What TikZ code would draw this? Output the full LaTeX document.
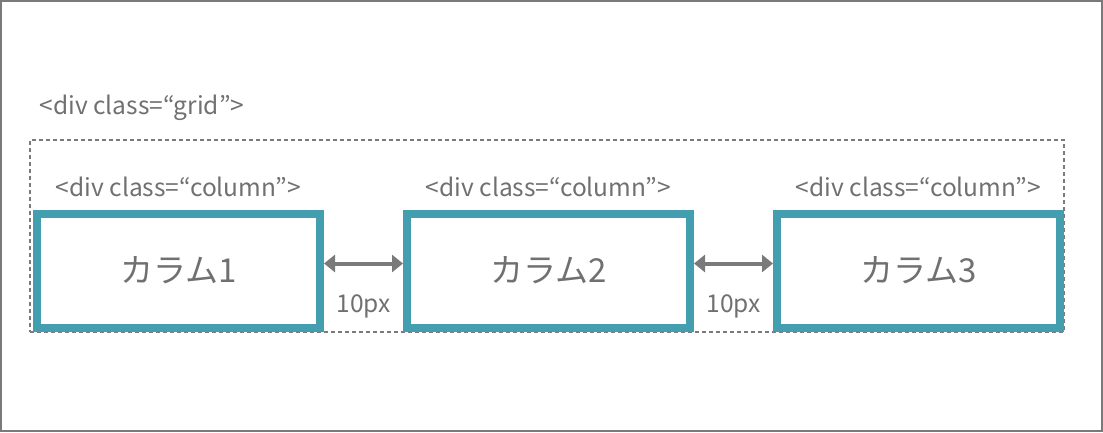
\documentclass[tikz,border=0pt]{standalone}
\usepackage{fontspec}
\setmainfont{Noto Sans CJK JP}
\usetikzlibrary{arrows.meta,positioning}
\definecolor{colteal}{HTML}{439EB0}
\definecolor{txtgrey}{HTML}{707070}
\definecolor{linegrey}{HTML}{7A7A7A}
\begin{document}
\begin{tikzpicture}[x=1pt,y=-1pt,
	colbox/.style={draw=colteal, line width=8pt, fill=white, minimum width=283pt, minimum height=114pt, text=txtgrey, font=\fontsize{33}{40}\selectfont},
	tag/.style={text=txtgrey, font=\fontsize{24.5}{29}\selectfont, inner sep=0pt},
	gridbox/.style={draw=linegrey, line width=1.2pt, dash pattern=on 4pt off 3pt, minimum width=1034pt, minimum height=192pt, inner sep=0pt},
	gap/.style={linegrey, line width=4pt, {Triangle[length=11pt,width=17pt]}-{Triangle[length=11pt,width=17pt]}}
	]

	% frame
	\useasboundingbox (0,0) rectangle (1103,432);
	\draw[linegrey, line width=2pt] (1,1) rectangle (1102,431);

	% grid
	\node[gridbox] (grid) at (547,236) {};
	\node[tag, anchor=south west] (gridtag) at ([xshift=10pt, yshift=19pt]grid.north west) {<div class=“grid”>};

	% columns
	\node[colbox] (c1) at (178.5,270.5) {カラム1};
	\node[colbox] (c2) at (548.5,270.5) {カラム2};
	\node[colbox] (c3) at (918.5,270.5) {カラム3};

	% labels
	\node[tag, above=12pt of c1] (t1) {<div class=“column”>};
	\node[tag, above=12pt of c2] (t2) {<div class=“column”>};
	\node[tag, above=12pt of c3] (t3) {<div class=“column”>};

	% gaps
	\draw[gap] ([yshift=7pt]c1.east) -- node[tag, below=29pt] {10px} ([yshift=7pt]c2.west);
	\draw[gap] ([yshift=7pt]c2.east) -- node[tag, below=29pt] {10px} ([yshift=7pt]c3.west);

\end{tikzpicture}
\end{document}
